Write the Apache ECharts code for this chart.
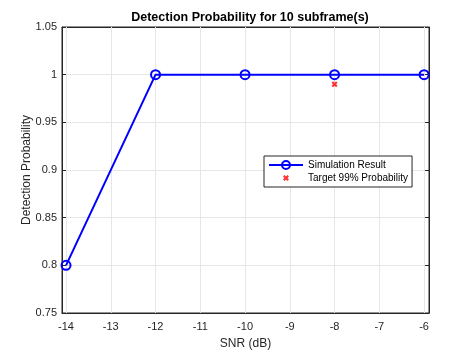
<!DOCTYPE html>
<html><head><meta charset="utf-8">
<script src="https://cdn.jsdelivr.net/npm/echarts@6/dist/echarts.min.js"></script>
<style>html,body{margin:0;padding:0;background:#fff}#c{width:474px;height:355px}</style>
</head><body><div id="c"></div>
<script>
const snr = [-14, -12, -10, -8, -6];
const detProb = [0.8, 1, 1, 1, 1];
const targetSnr = [-8];
const targetProb = [0.99];
const xTicks = [-14, -13, -12, -11, -10, -9, -8, -7, -6];
const yTicks = [0.75, 0.8, 0.85, 0.9, 0.95, 1, 1.05];

const xSym = 'path://M0,2.5L2.5,0L5,2.5L7.5,0L10,2.5L7.5,5L10,7.5L7.5,10L5,7.5L2.5,10L0,7.5L2.5,5Z';
const xLegendSym = 'path://M0,5L0.01,5L0.01,5.01Z M34,5L34.01,5L34.01,5.01Z M14,2.5L15.5,1L17,2.5L18.5,1L20,2.5L18.5,4L20,5.5L18.5,7L17,5.5L15.5,7L14,5.5L15.5,4Z';
const font = 'Liberation Sans, Arial, sans-serif';
const chart = echarts.init(document.getElementById('c'), null, {renderer: 'canvas'});
const grid = {left: 62, right: 45, top: 27, bottom: 41, show: true, borderColor: '#262626', borderWidth: 1, backgroundColor: '#fff'};
const tickCommon = {show: true, inside: true, length: 4, lineStyle: {color: '#262626', width: 1}};
chart.setOption({
  animation: false,
  title: {text: 'Detection Probability for 10 subframe(s)', left: 245, top: 6, textAlign: 'center',
    textStyle: {fontFamily: font, fontSize: 12.5, fontWeight: 'bold', color: '#000'}},
  grid: grid,
  legend: {
    orient: 'vertical', left: 264, top: 156, itemGap: 3, itemWidth: 34, itemHeight: 10,
    borderColor: '#262626', borderWidth: 1, backgroundColor: '#fff', padding: [4, 4, 4, 4],
    textStyle: {fontFamily: font, fontSize: 10, color: '#000'},
    data: [{name: 'Simulation Result'}, {name: 'Target 99% Probability', icon: xLegendSym}]
  },
  xAxis: [{
    type: 'value', min: -14.09, max: -5.89,
    name: 'SNR (dB)', nameLocation: 'middle', nameGap: 25, nameMoveOverlap: false,
    nameTextStyle: {fontFamily: font, fontSize: 12, color: '#262626'},
    axisLine: {show: true, lineStyle: {color: '#262626'}},
    axisTick: Object.assign({customValues: xTicks}, tickCommon),
    axisLabel: {customValues: xTicks, fontFamily: font, fontSize: 11, color: '#262626', margin: 8},
    splitLine: {show: false}
  }, {
    type: 'value', position: 'top', min: -14.09, max: -5.89,
    axisLine: {show: true, lineStyle: {color: '#262626'}},
    axisTick: Object.assign({customValues: xTicks}, tickCommon),
    axisLabel: {show: false}, splitLine: {show: false}
  }],
  yAxis: [{
    type: 'value', min: 0.75, max: 1.05, interval: 0.05,
    name: 'Detection Probability', nameLocation: 'middle', nameGap: 29, nameMoveOverlap: false,
    nameTextStyle: {fontFamily: font, fontSize: 12, color: '#262626'},
    axisLine: {show: true, lineStyle: {color: '#262626'}},
    axisTick: tickCommon,
    axisLabel: {fontFamily: font, fontSize: 11, color: '#262626', margin: 5,
      formatter: v => String(+v.toFixed(2))},
    splitLine: {show: true, lineStyle: {color: '#e6e6e6', width: 1}}
  }, {
    type: 'value', position: 'right', min: 0.75, max: 1.05, interval: 0.05,
    axisLine: {show: true, lineStyle: {color: '#262626'}},
    axisTick: tickCommon, axisLabel: {show: false}, splitLine: {show: false}
  }],
  series: [{
    name: 'Simulation Result', type: 'line', xAxisIndex: 0, yAxisIndex: 0,
    data: snr.map((x, i) => [x, detProb[i]]),
    symbol: 'circle', symbolSize: 9, showAllSymbol: true,
    lineStyle: {color: '#0000ff', width: 2},
    itemStyle: {color: 'rgba(0,0,255,0)', borderColor: '#0000ff', borderWidth: 2},
    markLine: {silent: true, symbol: 'none', label: {show: false}, z: 1,
      lineStyle: {color: '#e6e6e6', width: 1, type: 'solid'},
      data: xTicks.map(v => ({xAxis: v}))},
    z: 3
  }, {
    name: 'Target 99% Probability', type: 'scatter', xAxisIndex: 0, yAxisIndex: 0,
    data: targetSnr.map((x, i) => [x, targetProb[i]]),
    symbol: xSym, symbolSize: 6,
    itemStyle: {color: '#ff0000'}, z: 4
  }]
});
</script></body></html>
